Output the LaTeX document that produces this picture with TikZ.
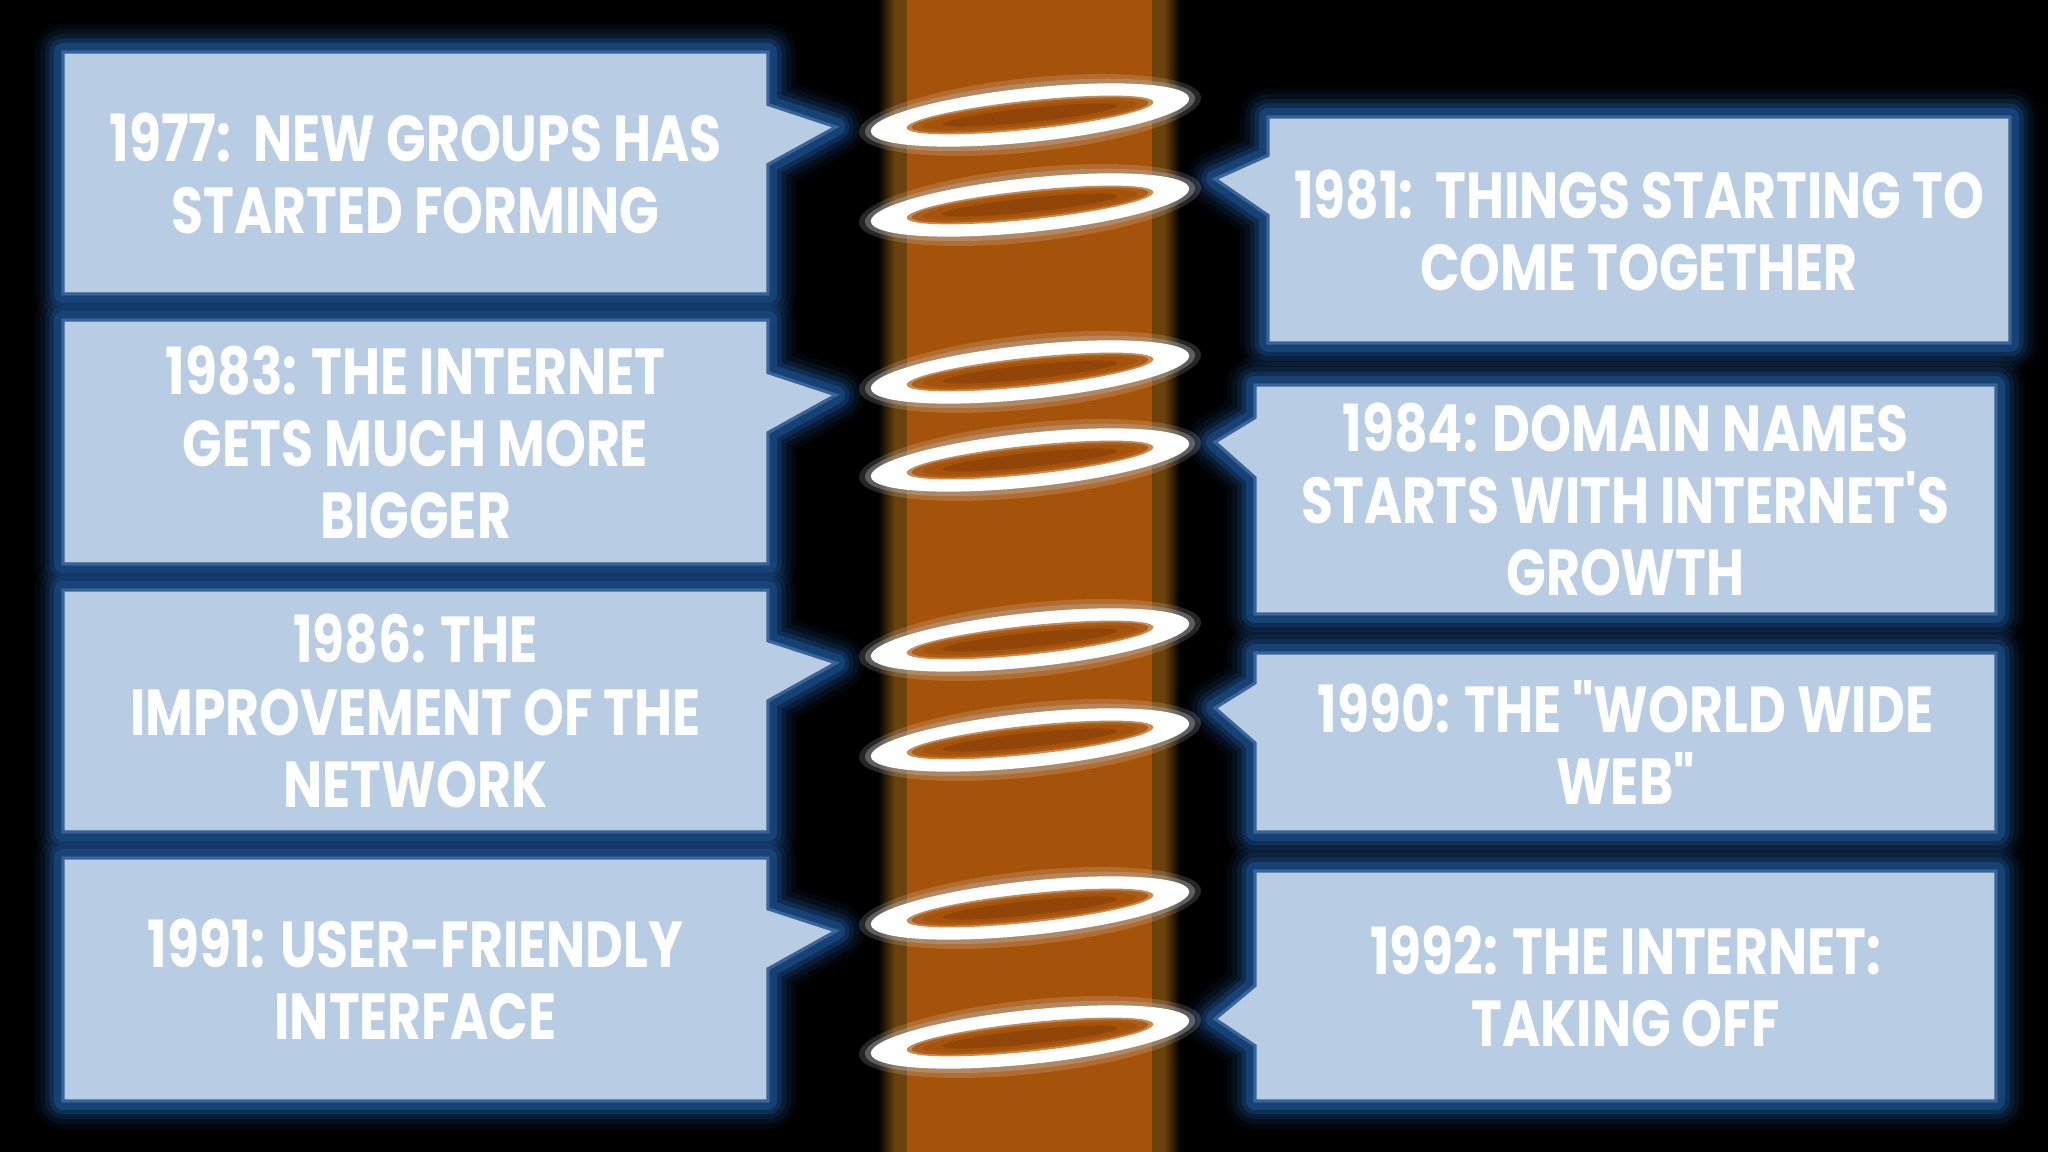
\documentclass[tikz,border=0pt]{standalone}
\usepackage{fontspec}
\newfontfamily\tlfont{Poppins}[FakeStretch=0.8]
\usetikzlibrary{shapes.callouts}
\definecolor{tlBlue}{HTML}{B8CCE4}
\definecolor{tlEdge}{HTML}{3A6398}
\definecolor{tlGlow}{HTML}{1A4A85}
\definecolor{tlOrange}{HTML}{A5530B}
\definecolor{tlBrown}{HTML}{6B420C}
\definecolor{tlRim}{HTML}{C98A52}
\definecolor{tlCore}{HTML}{914508}
\tikzset{
  glow/.style={draw=tlGlow, line join=round, line width=#1},
  event/.style={rectangle callout, callout pointer width=0.6cm,
    fill=tlBlue, draw=tlEdge, line width=0.9pt, inner sep=0pt,
    preaction={glow=0.56cm, opacity=.10},
    preaction={glow=0.46cm, opacity=.14},
    preaction={glow=0.36cm, opacity=.22},
    preaction={glow=0.27cm, opacity=.38},
    preaction={glow=0.18cm, opacity=.7},
    text=white, align=center,
    font=\tlfont\bfseries\fontsize{18.5}{20.5}\selectfont},
}

\begin{document}
\begin{tikzpicture}[scale=1.0]
  % tlo
  \fill[black] (0,0) rectangle (20.48,11.52);
  \useasboundingbox (0,0) rectangle (20.48,11.52);
  % pas
  \shade[left color=black, right color=tlBrown] (8.78,0) rectangle (8.95,11.52);
  \fill[tlBrown] (8.95,0) rectangle (9.07,11.52);
  \fill[tlOrange] (9.07,0) rectangle (11.52,11.52);
  \fill[tlBrown] (11.52,0) rectangle (11.64,11.52);
  \shade[left color=tlBrown, right color=black] (11.64,0) rectangle (11.80,11.52);
  % lewa strona
  \node[event, minimum width=7.05cm, minimum height=2.42cm, callout absolute pointer={(8.36,10.25)}]
    (ev1977) at (4.155,9.79) {1977:\ \ NEW GROUPS HAS\\STARTED FORMING};
  \node[event, minimum width=7.05cm, minimum height=2.44cm, callout absolute pointer={(8.36,7.57)}]
    (ev1983) at (4.155,7.10) {1983: THE INTERNET\\GETS MUCH MORE\\BIGGER};
  \node[event, minimum width=7.05cm, minimum height=2.42cm, callout absolute pointer={(8.36,4.89)}]
    (ev1986) at (4.155,4.41) {1986: THE\\IMPROVEMENT OF THE\\NETWORK};
  \node[event, minimum width=7.05cm, minimum height=2.43cm, callout absolute pointer={(8.36,2.21)}]
    (ev1991) at (4.155,1.725) {1991: USER-FRIENDLY\\INTERFACE};
  % prawa strona
  \node[event, minimum width=7.42cm, minimum height=2.26cm, callout absolute pointer={(12.15,9.73)}]
    (ev1981) at (16.39,9.22) {1981:\ \ THINGS STARTING TO\\COME TOGETHER};
  \node[event, minimum width=7.41cm, minimum height=2.29cm, callout absolute pointer={(12.15,7.10)}]
    (ev1984) at (16.255,6.525) {1984: DOMAIN NAMES\\STARTS WITH INTERNET'S\\GROWTH};
  \node[event, minimum width=7.41cm, minimum height=1.79cm, callout absolute pointer={(12.15,4.44)}]
    (ev1990) at (16.255,4.095) {1990: THE "WORLD WIDE\\WEB"};
  \node[event, minimum width=7.41cm, minimum height=2.30cm, callout absolute pointer={(12.15,1.33)}]
    (ev1992) at (16.255,1.66) {1992: THE INTERNET:\\TAKING OFF};
  % pierscienie
  \foreach \y in {10.37,9.47,7.80,6.92,5.12,4.12,2.44,1.15}{
    \begin{scope}[shift={(10.30,\y)}, rotate=6]
      \fill[white, opacity=.15] (0,0) ellipse [x radius=1.72, y radius=0.37];
      \fill[gray!60!white, opacity=.4] (0,0) ellipse [x radius=1.66, y radius=0.32];
      \fill[white] (0,0) ellipse [x radius=1.60, y radius=0.27];
      \fill[tlRim] (0,0) ellipse [x radius=1.24, y radius=0.145];
      \fill[tlOrange!80!tlRim] (0,0) ellipse [x radius=1.19, y radius=0.125];
      \fill[tlOrange] (0,0) ellipse [x radius=1.08, y radius=0.10];
      \fill[tlCore] (0,0) ellipse [x radius=0.88, y radius=0.07];
    \end{scope}
  }
\end{tikzpicture}
\end{document}
